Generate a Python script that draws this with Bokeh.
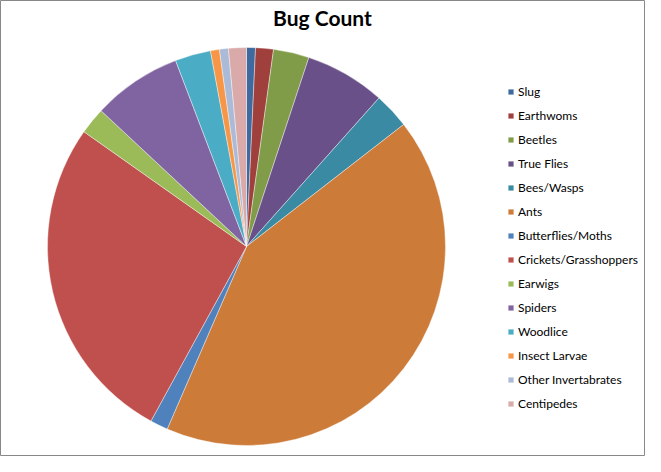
import math
from bokeh.plotting import figure
from bokeh.models import Range1d, Legend, LegendItem, ColumnDataSource
from bokeh.core.properties import value
from bokeh.embed import file_html
from bokeh.resources import INLINE

# ---- data ----
categories = ["Slug", "Earthwoms", "Beetles", "True Flies", "Bees/Wasps", "Ants",
              "Butterflies/Moths", "Crickets/Grasshoppers", "Earwigs", "Spiders",
              "Woodlice", "Insect Larvae", "Other Invertabrates", "Centipedes"]
counts = [1, 2, 4, 9, 4, 58, 2, 37, 3, 10, 4, 1, 1, 2]
colors = ["#3E6A9F", "#A0403D", "#809C48", "#6A5088", "#3B8AA3", "#CD7B38",
          "#4F81BD", "#C0504D", "#9BBB59", "#8064A2", "#4BACC6", "#F79646",
          "#AABAD7", "#D9AAA9"]
title_text = "Bug Count"

W, H = 645, 456
total = sum(counts)
starts, ends = [], []
acc = 0.0
for c in counts:
    a0 = acc / total * 2 * math.pi
    acc += c
    a1 = acc / total * 2 * math.pi
    starts.append(math.pi / 2 - a0)
    ends.append(math.pi / 2 - a1)

src = ColumnDataSource(dict(cat=categories, count=counts, color=colors,
                            start=starts, end=ends))

p = figure(width=W, height=H, output_backend="svg", toolbar_location=None,
           x_range=Range1d(0, W), y_range=Range1d(0, H), min_border=0)
p.axis.visible = False
p.grid.visible = False
p.outline_line_color = "#888888"
p.outline_line_width = 1
p.background_fill_color = "white"

cx, cy, r = 246, H - 246, 199
wr = p.wedge(x=cx, y=cy, radius=r, start_angle="start", end_angle="end",
             direction="clock", fill_color="color", line_color="white",
             line_width=0.4, source=src)

p.text(x=[322], y=[H - 17], text=[title_text], text_font=value("Lato"),
       text_font_size="21px", text_font_style="bold", text_align="center",
       text_baseline="middle", text_color="#000000")

items = [LegendItem(label=c, renderers=[wr], index=i) for i, c in enumerate(categories)]
legend = Legend(items=items, location=(507, 44), padding=0, margin=0,
                spacing=6, label_height=18, glyph_height=7, glyph_width=7,
                label_standoff=4, label_text_font="Lato", label_text_font_size="12px",
                label_text_color="#000000", border_line_color=None,
                background_fill_alpha=0)
p.add_layout(legend)

open("out.html", "w").write(file_html(p, INLINE))
